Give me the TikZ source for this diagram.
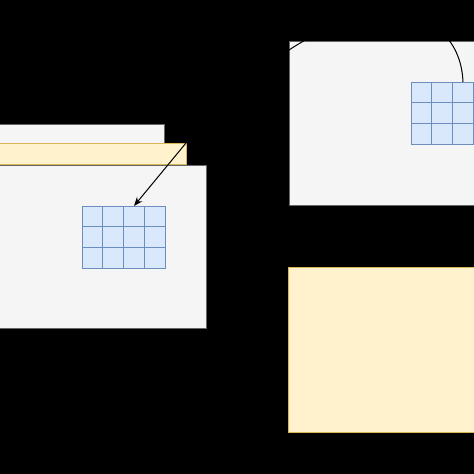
\documentclass[tikz,border=0pt]{standalone}
\usetikzlibrary{arrows.meta}
\definecolor{grayfill}{HTML}{F5F5F5}
\definecolor{graystroke}{HTML}{666666}
\definecolor{yelfill}{HTML}{FFF2CC}
\definecolor{yelstroke}{HTML}{D6B656}
\definecolor{bluefill}{HTML}{DAE8FC}
\definecolor{bluestroke}{HTML}{6C8EBF}
\tikzset{
  panel/.style={draw=graystroke, fill=grayfill, line width=1pt},
  note/.style={draw=yelstroke, fill=yelfill, line width=1pt},
  cellgrid/.style={draw=bluestroke, fill=bluefill, line width=1pt},
  link/.style={draw=black, line width=1pt},
}
\begin{document}
\begin{tikzpicture}[x=1pt,y=-1pt]
\fill[black] (0,0) rectangle (474,474);
\useasboundingbox (0,0) rectangle (474,474);
\clip (0,0) rectangle (474,474);
% left stack
\path[panel] (-10,124) rectangle (164,143) coordinate (topbar);
\path[note] (-10,143) rectangle (186,164);
\coordinate (ycorner) at (186,143);
\path[panel] (-10,165) rectangle (206,328);
% left grid
\path[cellgrid] (82,206) rectangle (165,268);
\foreach \i in {1,2,3} \draw[bluestroke, line width=1pt] (82+20.75*\i,206) -- (82+20.75*\i,268);
\foreach \j in {1,2} \draw[bluestroke, line width=1pt] (82,206+20.67*\j) -- (165,206+20.67*\j);
\coordinate (lgridtop) at (134,206);
% right top panel
\path[panel] (289,41) rectangle (484,205);
\path[cellgrid] (411,82) rectangle (494,144);
\foreach \i in {1,2,3} \draw[bluestroke, line width=1pt] (411+20.75*\i,82) -- (411+20.75*\i,144);
\foreach \j in {1,2} \draw[bluestroke, line width=1pt] (411,82+20.67*\j) -- (494,82+20.67*\j);
\coordinate (rgridtop) at (463,82);
% bottom right panel
\path[note] (288,267) rectangle (484,432);
% connector
\coordinate (via) at (289,50);
\draw[link, -{Stealth[length=9pt,width=7pt]}] (rgridtop) .. controls (460,10) and (380,-10) .. (via) -- (ycorner) -- (lgridtop);
\end{tikzpicture}
\end{document}
